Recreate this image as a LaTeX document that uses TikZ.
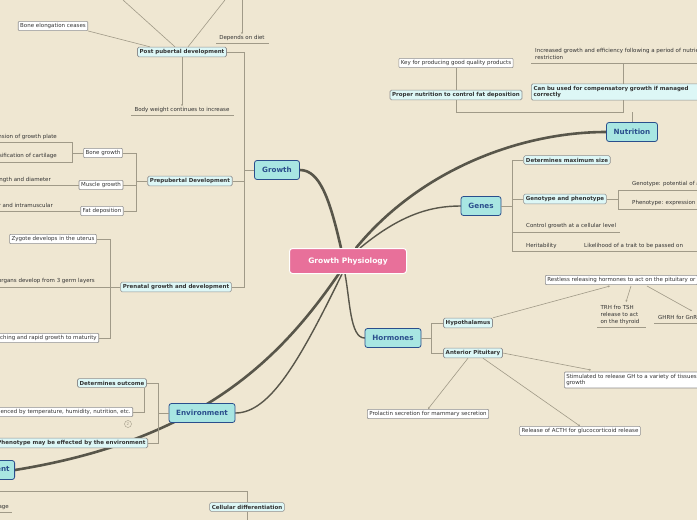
\documentclass[tikz,border=0pt]{standalone}
\usepackage{fontspec}
\setmainfont{DejaVu Sans}
\usetikzlibrary{arrows.meta}
\pgfdeclarelayer{bgl}
\pgfsetlayers{bgl,main}
\definecolor{bg}{HTML}{EFE7D2}
\definecolor{pinkc}{HTML}{E8709A}
\definecolor{maincol}{HTML}{A8E6E2}
\definecolor{mainbd}{HTML}{2A4E8C}
\definecolor{subcol}{HTML}{DDF7F6}
\definecolor{bdgray}{HTML}{8F8F8F}
\definecolor{lnc}{HTML}{A09A88}
\definecolor{brc}{HTML}{58564A}
\definecolor{txt}{HTML}{333333}
\tikzset{
 base/.style={font=\fontsize{5.5}{6.6}\selectfont,text=txt},
 wbox/.style={base,draw=bdgray,fill=white,rounded corners=1pt,inner sep=2pt,line width=0.6pt},
 sbox/.style={base,draw=bdgray,fill=subcol,rounded corners=1.5pt,inner sep=2.2pt,line width=0.6pt,font=\fontsize{5.5}{6.6}\selectfont\bfseries},
 mbox/.style={draw=mainbd,fill=maincol,rounded corners=2.5pt,line width=0.8pt,text=mainbd,font=\fontsize{7.2}{8}\selectfont\bfseries,minimum height=19pt,inner xsep=5pt},
 plain/.style={base,inner sep=1pt},
 ln/.style={draw=lnc,line width=0.6pt},
 ar/.style={ln,-{Stealth[length=2pt,width=2pt]}},
 br/.style={draw=brc,line cap=round},
}
\begin{document}
\begin{tikzpicture}[x=1pt,y=-1pt]
\begin{pgfonlayer}{bgl}
\fill[bg] (0,0) rectangle (697,520);
\end{pgfonlayer}
\useasboundingbox (0,0) rectangle (697,520);
\clip (0,0) rectangle (697,520);
% central
\node[draw=white,fill=pinkc,rounded corners=3pt,line width=1pt,text=white,font=\fontsize{7.5}{9}\selectfont\bfseries,minimum width=117pt,minimum height=25pt] (root) at (348,261) {Growth Physiology};
% main nodes
\node[mbox,minimum width=45pt] (growth) at (277,170) {Growth};
\node[mbox,minimum width=51pt] (nutr) at (632,132) {Nutrition};
\node[mbox,minimum width=40pt] (genes) at (481,206) {Genes};
\node[mbox,minimum width=56pt] (horm) at (393,338) {Hormones};
\node[mbox,minimum width=66pt] (env) at (202,413) {Environment};
\node[mbox,anchor=east] (dev) at (15,470) {Development};
% branches
\begin{pgfonlayer}{bgl}
\draw[br,line width=2.6pt] (root.north west)++(52,0) .. controls (330,200) and (320,170) .. (growth.east);
\draw[br,line width=2.6pt] (root.north)++(8,0) .. controls (420,170) and (520,132) .. (nutr.west);
\draw[br,line width=1.4pt] (root.north)++(12,0) .. controls (400,215) and (430,206) .. (genes.west);
\draw[br,line width=1.4pt] (root.south)++(-3,0) .. controls (350,300) and (350,338) .. (horm.west);
\draw[br,line width=1.4pt] (root.south)++(-6,0) .. controls (300,360) and (270,413) .. (env.east);
\draw[br,line width=2.6pt] (root.south)++(-8,-2) .. controls (280,360) and (200,440) .. (dev.east);
\end{pgfonlayer}
% Growth subtree
\node[sbox] (post) at (182,52) {Post pubertal development};
\node[wbox] (bec) at (53,26) {Bone elongation ceases};
\coordinate (t1) at (123,0); \coordinate (t2) at (225,0); \coordinate (t3) at (242,0);
\node[plain] (dod) at (242,38) {Depends on diet};
\node[plain] (bwc) at (182,110) {Body weight continues to increase};
\draw[ln] (216,43)--(269,43); \draw[ln] (131,115)--(234,115);
\draw[ln] (post.north)++(-7,0) -- (t1);
\draw[ln] (post.north)++(6,0) -- (t2);
\draw[ar] (t3) -- (dod.north);
\draw[ln] (post.north)++(-32,0) -- (bec.south east);
\draw[ar] (post.south) -- (bwc.north);
\node[sbox] (pre) at (190,181) {Prepubertal Development};
\node[sbox] (pren) at (176,287) {Prenatal growth and development};
\draw[ln] (growth.west) -- (244,170);
\draw[ln] (post.east) -| (244,287) -- (pren.east);
\draw[ln] (pre.east) -- (244,181);
\node[wbox] (bg) at (103,153) {Bone growth};
\node[wbox] (mg) at (101,185) {Muscle growth};
\node[wbox] (fd) at (102,211) {Fat deposition};
\draw[ln] (pre.west) -- (136,181);
\draw[ln] (bg.east) -| (136,211) -- (fd.east);
\draw[ln] (mg.east) -- (136,185);
\node[plain,anchor=east] (g1) at (58,137) {Expansion of growth plate};
\node[plain,anchor=east] (g2) at (58,156) {Ossification of cartilage};
\draw[ln] (0,142) -- (72,142) -- (72,162) -- (0,162);
\draw[ln] (bg.west) -- (72,153);
\node[plain,anchor=east] (m1) at (52,180) {Increase in length and diameter};
\draw[ln] (0,185) -- (mg.west);
\node[plain,anchor=east] (f1) at (54,205) {Intermuscular and intramuscular};
\draw[ln] (0,211) -- (fd.west);
\node[wbox] (zy) at (53,239) {Zygote develops in the uterus};
\node[plain,anchor=east] (p1) at (96,281) {Tissues and organs develop from 3 germ layers};
\draw[ln] (0,287) -- (pren.west);
\node[wbox,anchor=east] (p2) at (99,338) {Birth, hatching and rapid growth to maturity};
\draw[ln] (zy.east) -| (110,338) -- (p2.east);
% Environment
\node[sbox] (deto) at (112,383) {Determines outcome};
\node[wbox,anchor=east] (infl) at (133,412) {Influenced by temperature, humidity, nutrition, etc.};
\node[sbox,anchor=east] (phen) at (148,443) {Phenotype may be effected by the environment};
\draw[ln] (env.west) -- (158,413);
\draw[ln] (deto.east) -| (158,443) -- (phen.east);
\draw[ln] (144,388) |- (infl.east);
\node[draw=lnc,circle,inner sep=0pt,minimum size=7pt,font=\fontsize{4}{4}\selectfont,text=lnc] (c2) at (128,424) {2};
% bottom
\node[sbox] (cell) at (247,507) {Cellular differentiation};
\draw[ln] (cell.north) -- (247,491) -- (0,491);
\draw[ln] (cell.south) -- (247,520);
\node[plain,anchor=east] (ge) at (10,507) {Stage};
\draw[ln] (0,512) -- (12,512);
% Nutrition
\node[sbox] (prop) at (456,95) {Proper nutrition to control fat deposition};
\node[wbox] (key) at (456,63) {Key for producing good quality products};
\node[sbox,anchor=west,align=left,text width=170pt] (comp) at (531,92) {Can bu used for compensatory growth if managed\\correctly};
\node[plain,anchor=west,align=left] (inc) at (534,54) {Increased growth and efficiency following a period of nutrient\\restriction};
\draw[ln] (531,63) -- (697,63);
\draw[ln] (623,63) -- (comp.north -| 623,0);
\draw[ln] (nutr.north) -- (632,112);
\draw[ln] (prop.south) -- (456,112) -- (623,112) -- (comp.south -| 623,0);
\draw[ln] (key.south) -- (prop.north);
% Genes
\node[sbox] (dms) at (567,160) {Determines maximum size};
\node[sbox] (gp) at (565,199) {Genotype and phenotype};
\draw[ln] (genes.east) -- (512,206);
\draw[ln] (dms.west) -| (512,251);
\draw[ln] (gp.west) -- (512,199);
\node[plain,anchor=west] at (631,184) {Genotype: potential of an animal};
\node[plain,anchor=west] at (631,203) {Phenotype: expression of genotype};
\draw[ln] (697,190) -- (618,190) -- (618,209) -- (697,209);
\draw[ln] (gp.east) -- (618,199);
\node[plain,anchor=west] at (525,226) {Control growth at a cellular level};
\draw[ln] (512,232) -- (620,232);
\node[plain,anchor=west] at (525,246) {Heritability};
\node[plain,anchor=west] at (583,246) {Likelihood of a trait to be passed on};
\draw[ln] (512,251) -- (697,251);
% Hormones
\node[sbox] (hyp) at (468,323) {Hypothalamus};
\node[sbox] (ant) at (473,353) {Anterior Pituitary};
\draw[ln] (horm.east) -- (431,338);
\draw[ln] (hyp.west) -| (431,353) -- (ant.west);
\node[wbox,anchor=west] (rest) at (545,280) {Restless releasing hormones to act on the pituitary or};
\draw[ar] (hyp.north east) -- (610,286);
\node[plain,align=left] (trh) at (620,315) {TRH fro TSH\\release to act\\on the thyroid};
\draw[ln] (597,327) -- (646,327);
\draw[ar] (631,286) -- (626,302);
\node[plain,anchor=west] (ghrh) at (657,317) {GHRH for GnRH};
\draw[ln] (654,323) -- (697,323);
\draw[ar] (647,286) -- (692,311);
\node[wbox,anchor=west,align=left] (stim) at (564,380) {Stimulated to release GH to a variety of tissues for\\growth};
\draw[ar] (ant.east) -- (591,370);
\node[wbox] (prol) at (428,414) {Prolactin secretion for mammary secretion};
\node[wbox] (acth) at (580,431) {Release of ACTH for glucocorticoid release};
\draw[ar] (ant.south)++(-5,0) -- (prol.north);
\draw[ar] (ant.south)++(10,0) -- (acth.north);
\end{tikzpicture}
\end{document}
